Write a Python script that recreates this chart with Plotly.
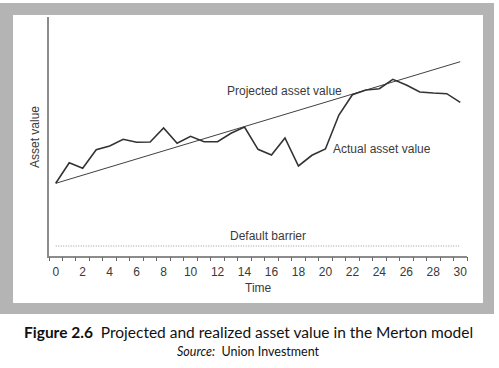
import plotly.graph_objects as go

# ---- data (arbitrary asset-value units) ----
time = list(range(31))
actual = [72.7, 93.3, 87.7, 106.3, 110.0, 116.7, 113.7, 114.0, 128.0, 112.7,
          119.7, 114.3, 114.3, 122.7, 129.0, 106.7, 101.0, 118.0, 90.0, 100.7,
          107.0, 141.0, 161.3, 166.0, 167.3, 176.7, 171.0, 164.0, 163.0, 162.3,
          153.7]
proj_time = [0, 30]
projected = [72.7, 194.3]
barrier_time = [0, 30]
barrier = [10.0, 10.0]
xtick_vals = list(range(0, 31, 2))
xtick_text = [str(v) for v in xtick_vals]
minor_ticks = [v - 0.5 for v in range(0, 32)]

# ---- layout geometry (pixels) ----
W, H = 499, 368
L, R, T, B = 49, 467, 17, 256


def px(x):
    return (x - L) / (R - L)


def py(y):
    return (B - y) / (B - T)


TXT = "#3a3a3a"
FONT = "Liberation Sans, Arial, sans-serif"

fig = go.Figure()
fig.add_trace(go.Scatter(x=barrier_time, y=barrier, mode="lines",
                         line=dict(color="#9a9a9a", width=1, dash="1px,1.5px"),
                         hoverinfo="skip", showlegend=False))
fig.add_trace(go.Scatter(x=proj_time, y=projected, mode="lines",
                         line=dict(color="#404040", width=1),
                         hoverinfo="skip", showlegend=False))
fig.add_trace(go.Scatter(x=time, y=actual, mode="lines",
                         line=dict(color="#333333", width=1.6),
                         hoverinfo="skip", showlegend=False))
# invisible trace to activate the tick axis
fig.add_trace(go.Scatter(x=[0], y=[0], xaxis="x2", mode="markers",
                         marker=dict(opacity=0), hoverinfo="skip",
                         showlegend=False))

shapes = [
    dict(type="rect", xref="paper", yref="paper", layer="below",
         x0=px(0), x1=px(494), y0=py(314), y1=py(3),
         fillcolor="#b4b4b4", line=dict(width=0)),
    dict(type="rect", xref="paper", yref="paper", layer="below",
         x0=px(13), x1=px(483), y0=py(303), y1=py(15),
         fillcolor="white", line=dict(width=0)),
]

annotations = [
    dict(text="Projected asset value", x=px(284), y=py(90.7)),
    dict(text="Actual asset value", x=px(382), y=py(149.3)),
    dict(text="Default barrier", x=px(267.7), y=py(235.7)),
    dict(text="Time", x=px(258), y=py(288)),
    dict(text="Asset value", x=px(35), y=py(137), textangle=-90),
]
for a in annotations:
    a.update(xref="paper", yref="paper", showarrow=False,
             xanchor="center", yanchor="middle",
             font=dict(family=FONT, size=12, color=TXT))

annotations.append(dict(
    text="<b>Figure 2.6</b>  Projected and realized asset value in the Merton model",
    x=px(248), y=py(331.7), xref="paper", yref="paper", showarrow=False,
    xanchor="center", yanchor="middle",
    font=dict(family="Lato, sans-serif", size=15.5, color="#111111")))
annotations.append(dict(
    text="<i>Source:</i>  Union Investment",
    x=px(248), y=py(351.7), xref="paper", yref="paper", showarrow=False,
    xanchor="center", yanchor="middle",
    font=dict(family="Lato, sans-serif", size=12.5, color="#111111")))

fig.update_layout(
    width=W, height=H,
    margin=dict(l=L, r=W - R, t=T, b=H - B, pad=0),
    paper_bgcolor="white", plot_bgcolor="rgba(0,0,0,0)",
    showlegend=False,
    shapes=shapes, annotations=annotations,
    xaxis=dict(range=[-0.5, 30.5], tickvals=xtick_vals, ticktext=xtick_text,
               ticks="outside", ticklen=4, tickcolor="rgba(0,0,0,0)",
               showgrid=False, zeroline=False, showline=True,
               linecolor="#8c8c8c", linewidth=1.5,
               tickfont=dict(family=FONT, size=12, color=TXT)),
    xaxis2=dict(range=[-0.5, 30.5], overlaying="x", anchor="y", side="bottom",
                tickvals=minor_ticks, ticks="outside", ticklen=4,
                tickcolor="#6a6a6a", tickwidth=1, showticklabels=False,
                showgrid=False, zeroline=False, showline=False),
    yaxis=dict(range=[0, 239], showticklabels=False, ticks="",
               showgrid=False, zeroline=False, showline=True,
               linecolor="#8c8c8c", linewidth=1.5),
)

fig.write_html("out.html")
